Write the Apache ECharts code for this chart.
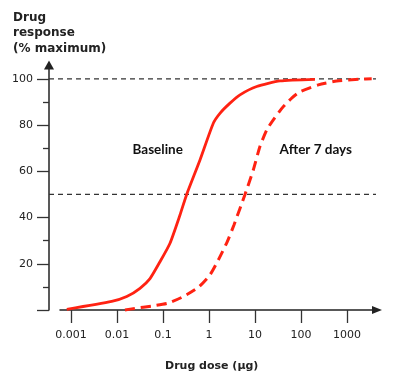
<!DOCTYPE html>
<html>
<head>
<meta charset="utf-8">
<script src="https://cdn.jsdelivr.net/npm/echarts@6/dist/echarts.min.js"></script>
<style>html,body{margin:0;padding:0;background:#fff}#c{width:400px;height:384px}</style>
</head>
<body>
<div id="c"></div>
<script>
// X-axis tick values (drug dose, µg, log scale)
const xTicks = [0.001, 0.01, 0.1, 1, 10, 100, 1000];
// Y-axis labelled ticks and minor ticks (% maximum)
const yMajorTicks = [0, 20, 40, 60, 80, 100];
const yLabelTicks = [20, 40, 60, 80, 100];
const yMinorTicks = [10, 30, 70, 90];

// Baseline curve
const baselineDose = [0.00081, 0.00767, 0.0163, 0.0316, 0.0522, 0.0861, 0.142, 0.234, 0.327, 0.637, 1.24, 1.73, 2.86, 4.72, 10.9, 34.9, 201];
const baselineResp = [0.3, 3.7, 5.8, 9.4, 13.6, 20.9, 28.9, 41.1, 50.0, 64.9, 80.8, 85.1, 89.5, 93.1, 96.7, 99.1, 99.8];

// After 7 days curve
const after7Dose = [0.0149, 0.0246, 0.0568, 0.130, 0.276, 0.585, 1.05, 1.59, 2.50, 3.49, 6.06, 9.19, 12.8, 18.0, 25.0, 41.2, 63.7, 95.0, 238, 597, 1919, 3443];
const after7Resp = [0, 0.7, 1.7, 3.0, 5.8, 9.8, 15.2, 21.6, 29.6, 36.8, 50.0, 60.6, 70.7, 77.9, 82.3, 88.0, 91.8, 94.4, 97.4, 99.1, 99.9, 100];

// Reference (dashed) levels and their dose extent
const refLevels = [50, 100];
const refDoseExtent = [0.0003325, 4266];

const pairs = (xs, ys) => xs.map((x, i) => [x, ys[i]]);

const chart = echarts.init(document.getElementById('c'), null, {renderer: 'canvas'});
const red = '#ff2212';
const axisColor = '#222';
const labelFont = {fontFamily: 'DejaVu Sans', fontSize: 11, color: '#222'};

const series = refLevels.map(v => ({
  type: 'line',
  xAxisIndex: 0, yAxisIndex: 0,
  data: pairs(refDoseExtent, [v, v]),
  showSymbol: false,
  silent: true,
  lineStyle: {color: '#333', width: 1.3, type: [5, 4]},
  z: 1
}));
series.push({
  type: 'line', name: 'Baseline',
  xAxisIndex: 0, yAxisIndex: 0,
  data: pairs(baselineDose, baselineResp),
  showSymbol: false, clip: false,
  smooth: 0.2,
  lineStyle: {color: red, width: 2.8},
  z: 3
});
series.push({
  type: 'line', name: 'After 7 days',
  xAxisIndex: 0, yAxisIndex: 0,
  data: pairs(after7Dose, after7Resp),
  showSymbol: false, clip: false,
  smooth: 0.2,
  lineStyle: {color: red, width: 3, type: [10, 6]},
  z: 3
});

chart.setOption({
  animation: false,
  backgroundColor: '#fff',
  grid: [
    {left: 49, right: 23, top: 65, bottom: 74, containLabel: false},
    {left: 60, right: 23, top: 65, bottom: 74, containLabel: false}
  ],
  xAxis: [{
    gridIndex: 0,
    type: 'log', logBase: 10,
    min: 0.0003325, max: 4489,
    show: false
  }, {
    gridIndex: 1,
    type: 'log', logBase: 10,
    min: 0.0005767, max: 4489,
    axisLine: {show: true, lineStyle: {color: axisColor, width: 1.5}, symbol: ['none', 'triangle'], symbolSize: [8, 10]},
    axisTick: {show: true, customValues: xTicks, length: 13, lineStyle: {color: '#333', width: 1.3}},
    axisLabel: {customValues: xTicks, margin: 20, ...labelFont,
      formatter: v => String(+v.toPrecision(6))},
    splitLine: {show: false},
    minorTick: {show: false}
  }],
  yAxis: [{
    gridIndex: 0,
    type: 'value', min: 0, max: 106, position: 'left',
    axisLine: {show: true, lineStyle: {color: axisColor, width: 1.5}, symbol: ['none', 'triangle'], symbolSize: [10, 9]},
    axisTick: {show: true, customValues: yMajorTicks, length: 12, lineStyle: {color: '#333', width: 1.3}},
    axisLabel: {customValues: yLabelTicks, margin: 16, ...labelFont},
    splitLine: {show: false}
  }, {
    gridIndex: 0,
    type: 'value', min: 0, max: 106, position: 'left',
    axisLine: {show: false},
    axisTick: {show: true, customValues: yMinorTicks, length: 6, lineStyle: {color: '#333', width: 1.3}},
    axisLabel: {show: false, customValues: yMinorTicks},
    splitLine: {show: false}
  }, {
    gridIndex: 1,
    type: 'value', min: 0, max: 106,
    show: false
  }],
  graphic: [
    {type: 'text', x: 13, y: 10, style: {text: 'Drug\nresponse\n(% maximum)', font: 'bold 12px "DejaVu Sans"', lineHeight: 15.5, fill: '#222'}},
    {type: 'text', x: 211.7, y: 366, style: {text: 'Drug dose (µg)', font: 'bold 11px "DejaVu Sans"', fill: '#222', align: 'center', verticalAlign: 'middle'}},
    {type: 'text', x: 157.7, y: 150, style: {text: 'Baseline', font: 'bold 13.5px Lato', fill: '#111', align: 'center', verticalAlign: 'middle'}},
    {type: 'text', x: 315.8, y: 150, style: {text: 'After 7 days', font: 'bold 13.5px Lato', fill: '#111', align: 'center', verticalAlign: 'middle'}}
  ],
  series: series
});
</script>
</body>
</html>
